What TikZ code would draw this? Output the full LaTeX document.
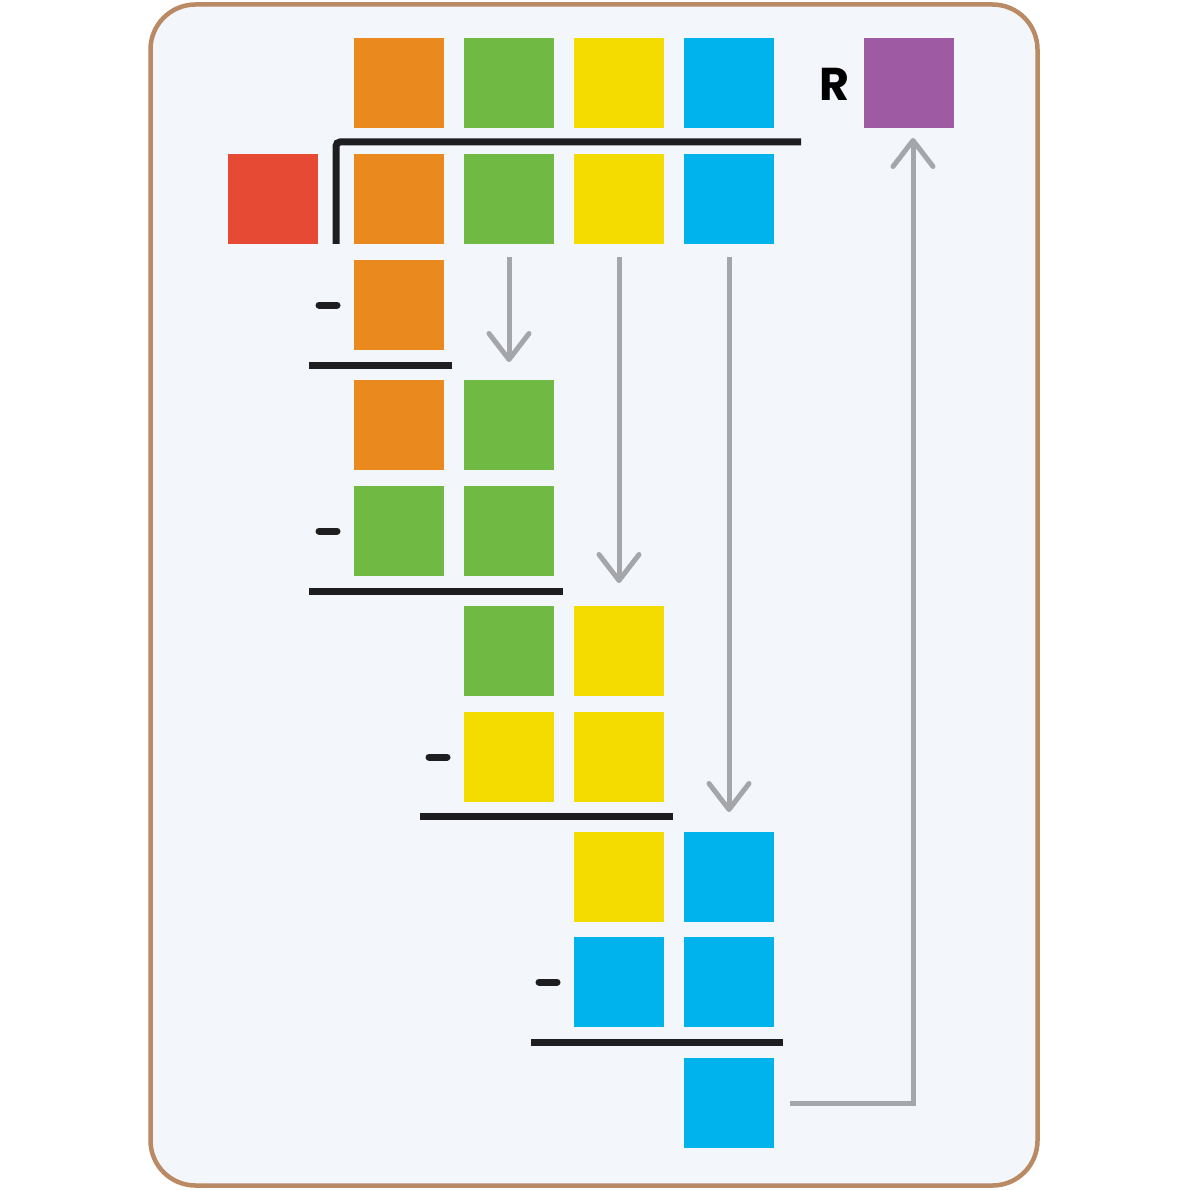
\documentclass[tikz,border=0pt]{standalone}
\usepackage{fontspec}
\usepackage{tikz}
\usepackage{xcolor}
\usetikzlibrary{calc,arrows.meta}
\newfontfamily\labelfont{Poppins}

\definecolor{board}{HTML}{F3F6FA}
\definecolor{rim}{HTML}{B98A64}
\definecolor{tileorange}{HTML}{EA8A1E}
\definecolor{tilegreen}{HTML}{70BA43}
\definecolor{tileyellow}{HTML}{F4DC00}
\definecolor{tileblue}{HTML}{00B3EC}
\definecolor{tilepurple}{HTML}{9E5BA3}
\definecolor{tilered}{HTML}{E64A35}
\definecolor{arrowgrey}{HTML}{A4A6AA}
\definecolor{ink}{HTML}{1E1E20}

\begin{document}
\begin{tikzpicture}[x=1pt,y=-1pt]
    \tikzstyle{every node}=[minimum size=90pt, inner sep=0pt, outer sep=0pt]
    \tikzstyle{bar}=[draw=ink, line width=7pt]
    \tikzstyle{minus}=[draw=ink, line width=7pt, line cap=round]
    \tikzstyle{arr}=[draw=arrowgrey, line width=5pt, -{Straight Barb[length=26pt,width=40pt,line width=5pt,round]}]

    \useasboundingbox (0,0) rectangle (1190,1190);
    \fill[white] (0,0) rectangle (1190,1190);
    \draw[rim, fill=board, line width=4.5pt, rounded corners=45pt] (150.5,4.5) rectangle (1037.5,1185.5);

    % quotient and remainder
    \node[fill=tileorange] (11) at (399,83) {};
    \node[fill=tilegreen] (12) at ($(11)+(110,0)$) {};
    \node[fill=tileyellow] (13) at ($(12)+(110,0)$) {};
    \node[fill=tileblue] (14) at ($(13)+(110,0)$) {};
    \node[fill=tilepurple] (15) at ($(14)+(180,0)$) {};
    \node[minimum size=0pt, font=\labelfont\bfseries\fontsize{46}{46}\selectfont] (R) at (834,84) {R};

    % divisor and dividend
    \node[fill=tilered] (20) at (273,199) {};
    \node[fill=tileorange] (21) at (399,199) {};
    \node[fill=tilegreen] (22) at ($(21)+(110,0)$) {};
    \node[fill=tileyellow] (23) at ($(22)+(110,0)$) {};
    \node[fill=tileblue] (24) at ($(23)+(110,0)$) {};
    \draw[bar, rounded corners=4pt] ($(21.south west)+(-18,0)$) |- ($(24.north east)+(27,-12)$);

    % step 1
    \node[fill=tileorange] (31) at (399,305) {};
    \draw[minus] ($(31.west)+(-17,0)$) -- ++(-18,0);
    \draw[bar] ($(31.south west)+(-45,15)$) -- ($(31.south east)+(8,15)$);
    \node[fill=tileorange] (41) at (399,425) {};
    \node[fill=tilegreen] (42) at ($(41)+(110,0)$) {};

    % step 2
    \node[fill=tilegreen] (51) at (399,531) {};
    \node[fill=tilegreen] (52) at ($(51)+(110,0)$) {};
    \draw[minus] ($(51.west)+(-17,0)$) -- ++(-18,0);
    \draw[bar] ($(51.south west)+(-45,15)$) -- ($(52.south east)+(9,15)$);
    \node[fill=tilegreen] (62) at (509,651) {};
    \node[fill=tileyellow] (63) at ($(62)+(110,0)$) {};

    % step 3
    \node[fill=tileyellow] (72) at (509,757) {};
    \node[fill=tileyellow] (73) at ($(72)+(110,0)$) {};
    \draw[minus] ($(72.west)+(-17,0)$) -- ++(-18,0);
    \draw[bar] ($(72.south west)+(-44,14)$) -- ($(73.south east)+(9,14)$);
    \node[fill=tileyellow] (83) at (619,877) {};
    \node[fill=tileblue] (84) at ($(83)+(110,0)$) {};

    % step 4
    \node[fill=tileblue] (93) at (619,982) {};
    \node[fill=tileblue] (94) at ($(93)+(110,0)$) {};
    \draw[minus] ($(93.west)+(-17,0)$) -- ++(-18,0);
    \draw[bar] ($(93.south west)+(-43,15)$) -- ($(94.south east)+(9,15)$);
    \node[fill=tileblue] (104) at (729,1103) {};

    % bring down and remainder
    \draw[arr, shorten <=13pt, shorten >=18pt] (22.south) -- (42.north);
    \draw[arr, shorten <=13pt, shorten >=23pt] (23.south) -- (63.north);
    \draw[arr, shorten <=13pt, shorten >=20pt] (24.south) -- (84.north);
    \draw[arr, shorten <=16pt, shorten >=10pt] (104.east) -| ($(15.south)+(4,0)$);
\end{tikzpicture}
\end{document}
